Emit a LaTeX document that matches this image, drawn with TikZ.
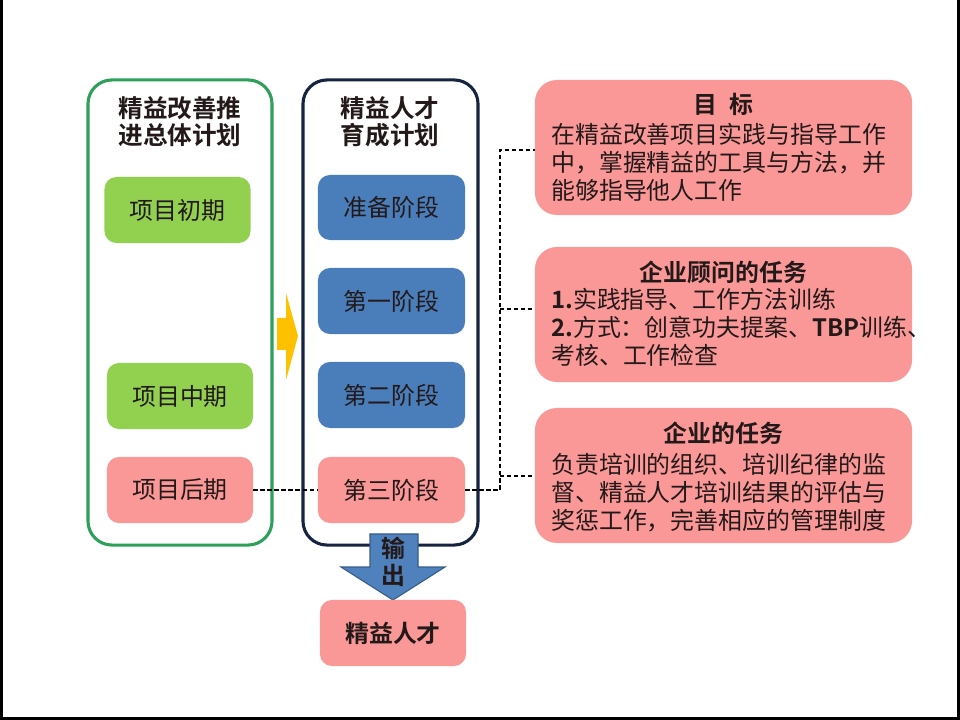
\documentclass[tikz,border=0pt]{standalone}
\usepackage{fontspec}
\newfontfamily\cjk{Noto Sans CJK SC}[BoldFont={Noto Sans CJK SC Bold}]
\definecolor{gborder}{RGB}{46,160,90}
\definecolor{gfill}{RGB}{146,208,80}
\definecolor{navy}{RGB}{22,36,64}
\definecolor{bfill}{RGB}{74,126,187}
\definecolor{pfill}{RGB}{250,152,152}
\definecolor{yarrow}{RGB}{255,192,0}
\definecolor{darrow}{RGB}{79,129,189}
\definecolor{darrowb}{RGB}{56,93,138}
\definecolor{txt}{RGB}{35,25,25}
\begin{document}
\begin{tikzpicture}[x=0.025cm,y=-0.025cm,
  every node/.style={font=\cjk\fontsize{17}{19.9}\selectfont, text=txt},
  outerbox/.style={draw, line width=2.2pt, rounded corners=0.6cm, minimum width=4.5cm, minimum height=11.625cm},
  titletext/.style={font=\cjk\bfseries\fontsize{17.5}{19.2}\selectfont, align=center},
  smallbox/.style={rounded corners=0.3cm, minimum width=3.65cm, minimum height=1.65cm, inner sep=0pt},
  greenbox/.style={smallbox, fill=gfill},
  bluebox/.style={smallbox, fill=bfill},
  pinkbox/.style={smallbox, fill=pfill},
  bigbox/.style={fill=pfill, rounded corners=0.55cm, minimum width=9.425cm, minimum height=3.375cm, inner sep=0pt},
  boxtitle/.style={font=\cjk\bfseries\fontsize{17}{19.7}\selectfont},
  boxbody/.style={anchor=north west, align=left, inner sep=0pt},
  dashline/.style={draw=black, line width=0.85pt, dash pattern=on 3pt off 2pt}
]
\useasboundingbox (0,0) rectangle (960,720);
\fill[white] (0,0) rectangle (960,720);
\draw[black, line width=1.8pt] (1.5,0) -- (1.5,718.5) -- (958.5,718.5) -- (958.5,0);

% left column
\node[outerbox, draw=gborder, minimum width=4.6cm] (outerL) at (180,312.5) {};
\node[titletext] (titleL) at (180,121.5) {精益改善推\\进总体计划};
\node[greenbox] (b1) at (177.5,210) {项目初期};
\node[greenbox] (b2) at (180,396) {项目中期};
\node[pinkbox] (b3) at (180,490) {项目后期};

% middle column
\node[outerbox, draw=navy, minimum width=4.375cm] (outerM) at (390.5,312.5) {};
\node[titletext] (titleM) at (390,121.5) {精益人才\\育成计划};
\node[bluebox, minimum width=3.675cm, minimum height=1.625cm] (s0) at (391.5,207.5) {准备阶段};
\node[bluebox, minimum width=3.675cm] (s1) at (391.5,301) {第一阶段};
\node[bluebox, minimum width=3.675cm] (s2) at (391.5,395) {第二阶段};
\node[pinkbox, minimum width=3.675cm] (s3) at (391.5,490) {第三阶段};

% yellow arrow
\fill[yarrow] (277,318) -- (286,318) -- (286,293) -- (298,336) -- (286,380) -- (286,350) -- (277,350) -- cycle;

% output arrow
\filldraw[fill=darrow, draw=darrowb, line width=0.8pt] (370,534) -- (418,534) -- (418,567) -- (445,567) -- (393,600) -- (341,567) -- (370,567) -- cycle;
\node[titletext, font=\cjk\bfseries\fontsize{17}{19.2}\selectfont] (outlbl) at (393,562) {输\\出};
\node[pinkbox] (out) at (393,633) {\bfseries 精益人才};

% right boxes
\node[bigbox] (r1) at (723.5,147.5) {};
\node[boxtitle] (r1t) at (723.5,104) {目\hspace{0.5em}标};
\node[boxbody] (r1b) at (551,123) {在精益改善项目实践与指导工作\\中，掌握精益的工具与方法，并\\能够指导他人工作};

\node[bigbox] (r2) at (723.5,314.5) {};
\node[boxtitle] (r2t) at (723.5,272) {企业顾问的任务};
\node[boxbody] (r2b) at (551,288) {\textbf{1.}实践指导、工作方法训练\\\textbf{2.}方式：创意功夫提案、\textbf{TBP}训练、\\考核、工作检查};

\node[bigbox] (r3) at (723.5,475.5) {};
\node[boxtitle] (r3t) at (723.5,433) {企业的任务};
\node[boxbody] (r3b) at (551,453) {负责培训的组织、培训纪律的监\\督、精益人才培训结果的评估与\\奖惩工作，完善相应的管理制度};

% connectors
\coordinate (j0) at (500,490);
\coordinate (j1) at (500,150);
\coordinate (j2) at (500,309);
\coordinate (j3) at (500,476);
\draw[dashline] (b3.east) -- (s3.west);
\draw[dashline] (s3.east) -- (j0) -- (j1) -- (j1 -| r1.west);
\draw[dashline] (j2) -- (j2 -| r2.west);
\draw[dashline] (j3) -- (j3 -| r3.west);
\end{tikzpicture}
\end{document}
